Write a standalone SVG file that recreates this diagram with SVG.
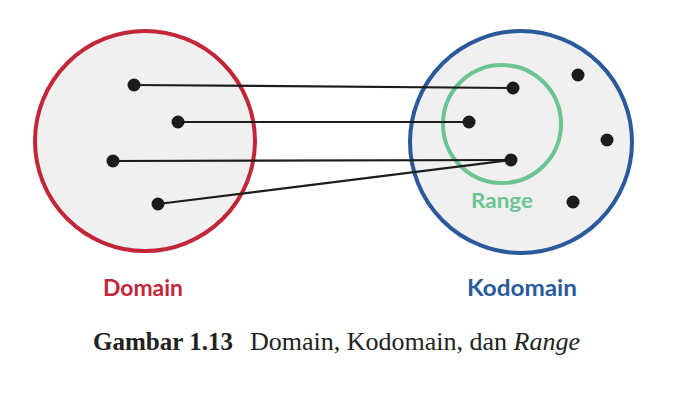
<svg xmlns="http://www.w3.org/2000/svg" width="700" height="407" viewBox="0 0 700 407">
<style>
.set{fill:#f1f0f1;stroke-width:4}
.dot{fill:#1c1c1c}
.lbl{font-family:Lato,"Liberation Sans",sans-serif;font-weight:bold;font-size:23px;text-anchor:middle}
.cap{font-family:"Liberation Serif",serif;font-size:25px;fill:#222}
#connectors line{stroke:#1c1c1c;stroke-width:2.2}
</style>
<rect width="700" height="407" fill="#fff"/>
<g id="domain">
<circle class="set" cx="145" cy="141" r="110" stroke="#c32638"/>
<text class="lbl" x="143" y="296" fill="#c32638" textLength="80" lengthAdjust="spacingAndGlyphs">Domain</text>
</g>
<g id="kodomain">
<circle class="set" cx="521" cy="142" r="111" stroke="#2a5a9b"/>
<text class="lbl" x="522" y="296" fill="#2a5a9b" textLength="110" lengthAdjust="spacingAndGlyphs">Kodomain</text>
</g>
<g id="range">
<circle cx="502" cy="124" r="59" fill="none" stroke="#6cc493" stroke-width="4"/>
<text class="lbl" x="502" y="208" fill="#6cc493" font-size="20" textLength="62" lengthAdjust="spacingAndGlyphs" style="font-size:20px">Range</text>
</g>
<g id="connectors">
<line x1="134" y1="85" x2="513" y2="88"/>
<line x1="178" y1="122" x2="469" y2="122"/>
<line x1="113" y1="161" x2="511" y2="160"/>
<line x1="158" y1="204" x2="511" y2="160"/>
</g>
<g id="points">
<circle class="dot" cx="134" cy="85" r="6.5"/>
<circle class="dot" cx="178" cy="122" r="6.5"/>
<circle class="dot" cx="113" cy="161" r="6.5"/>
<circle class="dot" cx="158" cy="204" r="6.5"/>
<circle class="dot" cx="513" cy="88" r="6.5"/>
<circle class="dot" cx="469" cy="122" r="6.5"/>
<circle class="dot" cx="511" cy="160" r="6.5"/>
<circle class="dot" cx="578" cy="75" r="6.5"/>
<circle class="dot" cx="607" cy="140" r="6.5"/>
<circle class="dot" cx="573" cy="202" r="6.5"/>
</g>
<g id="caption">
<text class="cap" x="93" y="350" font-weight="bold" textLength="140" lengthAdjust="spacingAndGlyphs">Gambar 1.13</text>
<text class="cap" x="250" y="350" textLength="330" lengthAdjust="spacingAndGlyphs">Domain, Kodomain, dan <tspan font-style="italic">Range</tspan></text>
</g>
</svg>
